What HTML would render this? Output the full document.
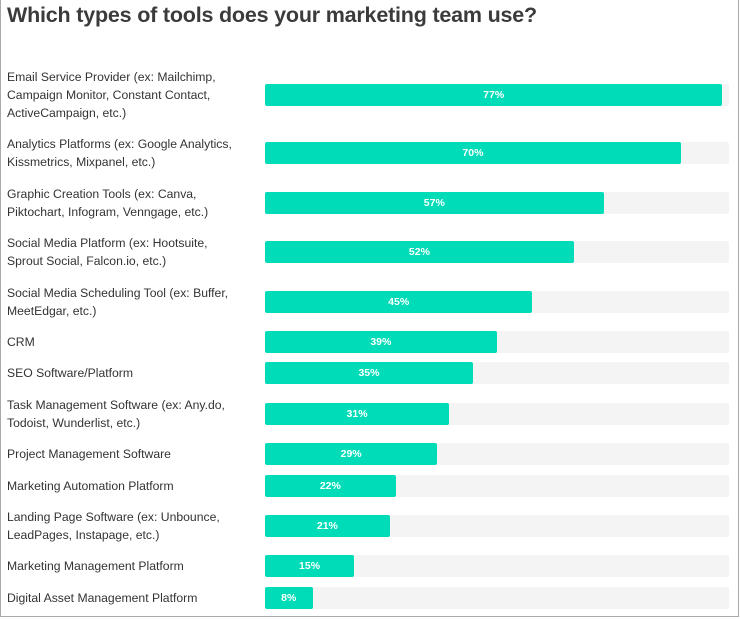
<!DOCTYPE html>
<html><head><meta charset="utf-8"><style>
body{margin:0;background:#fff;font-family:"Liberation Sans",sans-serif;}
#frame{position:absolute;left:0;top:0;width:737px;height:616px;border:1px solid #aaa;border-top:none;overflow:hidden;}
h1{position:absolute;left:6px;top:3px;margin:0;font-size:21.5px;font-weight:bold;color:#3b3b3b;letter-spacing:-0.2px;}
.lbl{position:absolute;left:6px;width:238px;display:flex;align-items:center;font-size:12.2px;line-height:18px;color:#333;}
.track{position:absolute;left:264px;width:464px;height:22px;background:#f4f4f4;border-radius:2px;}
.bar{position:absolute;left:0;top:0;height:22px;background:#00dbb8;border-radius:2px;color:#fff;font-size:10.5px;font-weight:bold;display:flex;align-items:center;justify-content:center;}
</style></head><body>
<div id="frame">
<h1>Which types of tools does your marketing team use?</h1>
<div id="rows"></div>
</div>
<script>
const categories=["Email Service Provider (ex: Mailchimp, Campaign Monitor, Constant Contact, ActiveCampaign, etc.)","Analytics Platforms (ex: Google Analytics, Kissmetrics, Mixpanel, etc.)","Graphic Creation Tools (ex: Canva, Piktochart, Infogram, Venngage, etc.)","Social Media Platform (ex: Hootsuite, Sprout Social, Falcon.io, etc.)","Social Media Scheduling Tool (ex: Buffer, MeetEdgar, etc.)","CRM","SEO Software/Platform","Task Management Software (ex: Any.do, Todoist, Wunderlist, etc.)","Project Management Software","Marketing Automation Platform","Landing Page Software (ex: Unbounce, LeadPages, Instapage, etc.)","Marketing Management Platform","Digital Asset Management Platform"];
const values=[77,70,57,52,45,39,35,31,29,22,21,15,8];
const lines=[3,2,2,2,2,1,1,2,1,1,2,1,1];
const rows=document.getElementById('rows');
function xScale(v){return v*5.94;}
let y=84;
for(let i=0;i<categories.length;i++){
  if(i>0){ y+=31.4+9*((lines[i-1]-1)+(lines[i]-1)); }
  const top=Math.round(y);
  const l=document.createElement('div');
  
  
  l.className='lbl';l.style.top=(top+11-lines[i]*9)+'px';l.style.height=(lines[i]*18)+'px';
  l.textContent=categories[i];rows.appendChild(l);
  const t=document.createElement('div');
  
  
  t.className='track';t.style.top=top+'px';
  const b=document.createElement('div');
  
  
  b.className='bar';b.style.width=xScale(values[i])+'px';b.textContent=values[i]+'%';
  t.appendChild(b);rows.appendChild(t);
}
</script>
</body></html>
